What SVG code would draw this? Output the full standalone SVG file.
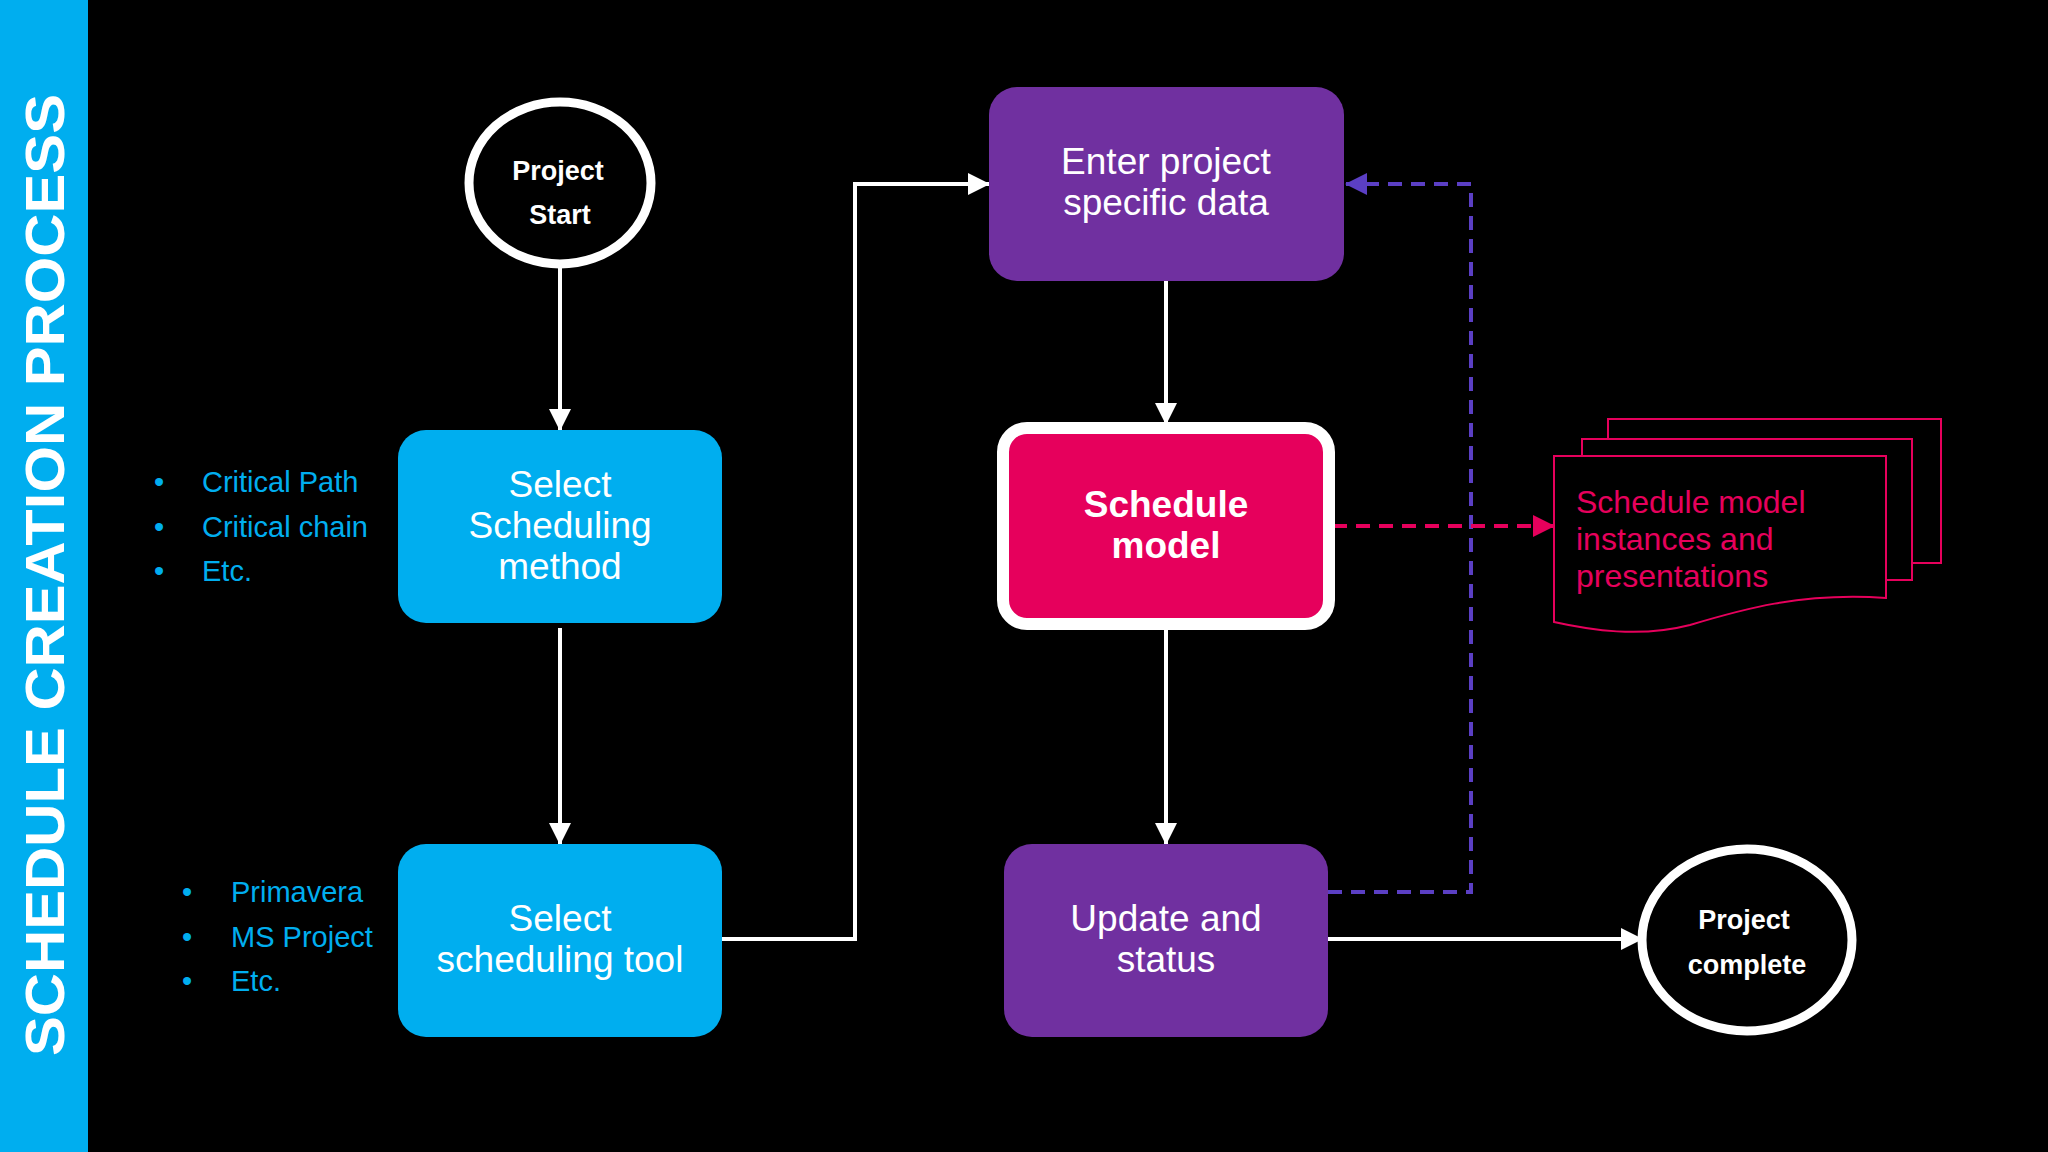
<svg xmlns="http://www.w3.org/2000/svg" width="2048" height="1152" viewBox="0 0 2048 1152">
<defs>
<style>
.t{font-family:"Liberation Sans",Arial,sans-serif;fill:#fff;text-anchor:middle}
.b{font-family:"Liberation Sans",Arial,sans-serif;fill:#00AEEF;font-size:29px}
.ln{stroke:#fff;stroke-width:4;fill:none}
</style>
<marker id="a" viewBox="0 0 22 22" refX="21" refY="11" markerWidth="22" markerHeight="22" orient="auto" markerUnits="userSpaceOnUse"><path d="M0,0L22,11L0,22z" fill="#fff"/></marker>
<marker id="ap" viewBox="0 0 22 22" refX="21" refY="11" markerWidth="22" markerHeight="22" orient="auto" markerUnits="userSpaceOnUse"><path d="M0,0L22,11L0,22z" fill="#5B3FC4"/></marker>
<marker id="ar" viewBox="0 0 22 22" refX="21" refY="11" markerWidth="22" markerHeight="22" orient="auto" markerUnits="userSpaceOnUse"><path d="M0,0L22,11L0,22z" fill="#E6005C"/></marker>
</defs>
<rect width="2048" height="1152" fill="#000"/>
<rect x="0" y="0" width="88" height="1152" fill="#00AEEF"/>
<text class="t" transform="translate(64,575) rotate(-90)" font-size="56" font-weight="bold" textLength="962" lengthAdjust="spacingAndGlyphs">SCHEDULE CREATION PROCESS</text>

<g id="connectors">
<path class="ln" d="M560,268V430" marker-end="url(#a)"/>
<path class="ln" d="M560,628V844" marker-end="url(#a)"/>
<path class="ln" d="M722,939H855V184H989" marker-end="url(#a)"/>
<path class="ln" d="M1166,281V424" marker-end="url(#a)"/>
<path class="ln" d="M1166,628V844" marker-end="url(#a)"/>
<path class="ln" d="M1328,939H1642" marker-end="url(#a)"/>
<path d="M1328,892H1471V184H1346" fill="none" stroke="#5B3FC4" stroke-width="4" stroke-dasharray="14,9" marker-end="url(#ap)"/>
<path d="M1333,526H1554" fill="none" stroke="#E6005C" stroke-width="4" stroke-dasharray="14,9" marker-end="url(#ar)"/>
</g>

<g id="start">
<ellipse cx="560" cy="183" rx="91" ry="81" fill="#000" stroke="#fff" stroke-width="9"/>
<text class="t" x="558" y="180" font-size="27" font-weight="bold">Project</text>
<text class="t" x="560" y="224" font-size="27" font-weight="bold">Start</text>
</g>
<g id="method">
<rect x="398" y="430" width="324" height="193" rx="28" fill="#00AEEF"/>
<text class="t" x="560" y="497" font-size="37">Select</text>
<text class="t" x="560" y="538" font-size="37">Scheduling</text>
<text class="t" x="560" y="579" font-size="37">method</text>
</g>
<g id="bullets1">
<text class="b" x="154" y="492">•</text><text class="b" x="202" y="492">Critical Path</text>
<text class="b" x="154" y="537">•</text><text class="b" x="202" y="537">Critical chain</text>
<text class="b" x="154" y="581">•</text><text class="b" x="202" y="581">Etc.</text>
</g>
<g id="tool">
<rect x="398" y="844" width="324" height="193" rx="28" fill="#00AEEF"/>
<text class="t" x="560" y="931" font-size="37">Select</text>
<text class="t" x="560" y="972" font-size="37">scheduling tool</text>
</g>
<g id="bullets2">
<text class="b" x="182" y="902">•</text><text class="b" x="231" y="902">Primavera</text>
<text class="b" x="182" y="947">•</text><text class="b" x="231" y="947">MS Project</text>
<text class="b" x="182" y="991">•</text><text class="b" x="231" y="991">Etc.</text>
</g>
<g id="enter">
<rect x="989" y="87" width="355" height="194" rx="28" fill="#7030A0"/>
<text class="t" x="1166" y="174" font-size="37">Enter project</text>
<text class="t" x="1166" y="215" font-size="37">specific data</text>
</g>
<g id="model">
<rect x="1003" y="428" width="326" height="196" rx="24" fill="#E6005C" stroke="#fff" stroke-width="12"/>
<text class="t" x="1166" y="517" font-size="37" font-weight="bold">Schedule</text>
<text class="t" x="1166" y="558" font-size="37" font-weight="bold">model</text>
</g>
<g id="update">
<rect x="1004" y="844" width="324" height="193" rx="28" fill="#7030A0"/>
<text class="t" x="1166" y="931" font-size="37">Update and</text>
<text class="t" x="1166" y="972" font-size="37">status</text>
</g>
<g id="complete">
<ellipse cx="1747" cy="940" rx="105" ry="91" fill="#000" stroke="#fff" stroke-width="9"/>
<text class="t" x="1744" y="929" font-size="27" font-weight="bold">Project</text>
<text class="t" x="1747" y="974" font-size="27" font-weight="bold">complete</text>
</g>
<g id="docs" fill="#000" stroke="#E6005C" stroke-width="2">
<rect x="1608" y="419" width="333" height="144"/>
<rect x="1582" y="439" width="330" height="141"/>
<path d="M1554,456H1886V598C1800,592 1740,610 1690,625C1640,638 1590,630 1554,622Z"/>
<text x="1576" y="513" font-family="Liberation Sans,Arial,sans-serif" font-size="32" fill="#E6005C" stroke="none">Schedule model</text>
<text x="1576" y="550" font-family="Liberation Sans,Arial,sans-serif" font-size="32" fill="#E6005C" stroke="none">instances and</text>
<text x="1576" y="587" font-family="Liberation Sans,Arial,sans-serif" font-size="32" fill="#E6005C" stroke="none">presentations</text>
</g>
</svg>
